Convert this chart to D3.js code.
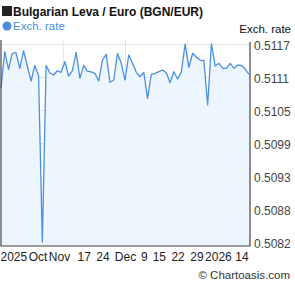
<!DOCTYPE html>
<html>
<head>
<meta charset="utf-8">
<script src="https://cdn.jsdelivr.net/npm/d3@7"></script>
<style>
  body { margin: 0; background: #fff; }
  text { font-family: "Liberation Sans", Arial, sans-serif; }
</style>
</head>
<body>
<div id="chart"></div>
<script>
// BGN/EUR exchange rate, one value per business day (Oct 16 2025 - Jan 16 2026)
const rates = [
  0.510882, 0.511519, 0.511210, 0.511491, 0.511501, 0.511228, 0.511536, 0.511268,
  0.511005, 0.511280, 0.511092, 0.508180, 0.511280, 0.511150, 0.511110, 0.511185,
  0.511157, 0.511343, 0.511092, 0.511185, 0.511508, 0.511052, 0.511280, 0.511180,
  0.511163, 0.511140, 0.511005, 0.511373, 0.511473, 0.510982, 0.511022, 0.511491,
  0.511315, 0.511022, 0.511461, 0.511315, 0.511157, 0.511080, 0.511157, 0.510701,
  0.511122, 0.511140, 0.511168, 0.511198, 0.511150, 0.510975, 0.511168, 0.511040,
  0.511168, 0.511654, 0.511245, 0.511491, 0.511421, 0.511373, 0.511361, 0.510584,
  0.511654, 0.511268, 0.511315, 0.511228, 0.511228, 0.511315, 0.511228, 0.511285,
  0.511280, 0.511210, 0.511122
];

// x tick labels and the data index each one belongs to
const xTickLabels = ["2025", "Oct", "Nov", "17", "24", "Dec", "9", "15", "22", "29", "2026", "14"];
const xTickIdx    = [0, 1, 12, 22, 27, 33, 38, 42, 47, 52, 55, 64];

// y ticks: min to max in six equal steps
const yTicks = [0.50818, 0.508759, 0.509338, 0.509917, 0.510496, 0.511075, 0.511654];

const width = 295, height = 288;
const plot = { left: 1, right: 250, top: 40, bottom: 246 };

const svg = d3.select("#chart")
    .append("svg")
    .attr("width", width)
    .attr("height", height);

let x = d3.scaleLinear()
    .domain([0, rates.length - 1])
    .range([plot.left, plot.right - 1]);

let y = d3.scaleLinear()
    .domain([yTicks[0], yTicks[yTicks.length - 1]])
    .range([242, 44]);

// vertical grid, plot split in quarters
let gx = d3.scaleLinear().domain([0, 4]).range([plot.left, plot.right]);
svg.append("g")
    .selectAll("line")
    .data([1, 2, 3])
    .join("line")
    .attr("x1", d => gx(d)).attr("x2", d => gx(d))
    .attr("y1", plot.top).attr("y2", plot.bottom)
    .attr("stroke", "#e4e4e4");

// horizontal grid
svg.append("g")
    .selectAll("line")
    .data(yTicks)
    .join("line")
    .attr("x1", plot.left).attr("x2", plot.right)
    .attr("y1", d => Math.round(y(d)) + 0.5).attr("y2", d => Math.round(y(d)) + 0.5)
    .attr("stroke", "#e4e4e4");

let area = d3.area()
    .x((d, i) => x(i))
    .y0(plot.bottom)
    .y1(d => y(d));

svg.append("path")
    .datum(rates)
    .attr("d", area)
    .attr("fill", "#edf5fe");

let line = d3.line()
    .x((d, i) => x(i))
    .y(d => y(d));

svg.append("path")
    .datum(rates)
    .attr("d", line)
    .attr("fill", "none")
    .attr("stroke", "#4a90e2")
    .attr("stroke-width", 1.3)
    .attr("stroke-linejoin", "round");

// frame: left, bottom, right
svg.append("path")
    .attr("d", `M${plot.left},${plot.top}V${plot.bottom}H${plot.right}V${plot.top + 2}`)
    .attr("fill", "none")
    .attr("stroke", "#444")
    .attr("stroke-width", 1.2);

// right y axis
svg.append("g")
    .attr("transform", `translate(${plot.right},0)`)
    .call(d3.axisRight(y).tickValues(yTicks).tickFormat(d3.format(".4f")).tickSize(0).tickPadding(4))
    .call(g => g.select(".domain").remove())
    .call(g => g.selectAll("text")
        .attr("font-size", 12)
        .attr("fill", "#444")
        .attr("font-family", "Liberation Sans, Arial, sans-serif")
        .attr("dy", "0.45em"));

// bottom x axis, labels pushed right where they would overlap
let xAxis = svg.append("g")
    .attr("transform", `translate(0,${plot.bottom})`)
    .call(d3.axisBottom(x).tickValues(xTickIdx).tickFormat((d, i) => xTickLabels[i]).tickSize(0).tickPadding(4))
    .call(g => g.select(".domain").remove());

xAxis.selectAll("text")
    .attr("font-size", 12)
    .attr("fill", "#222")
    .attr("font-family", "Liberation Sans, Arial, sans-serif")
    .attr("dy", "0.95em");

let prevRight = -Infinity;
xAxis.selectAll(".tick").each(function(d) {
    let t = d3.select(this).select("text");
    let w = t.node().getComputedTextLength();
    let left = Math.max(x(d) - w / 2, 0, prevRight + 1.5);
    t.attr("x", left + w / 2 - x(d));
    prevRight = left + w;
});

// title and legend
svg.append("rect")
    .attr("x", 2).attr("y", 6)
    .attr("width", 10).attr("height", 10)
    .attr("fill", "#222");

svg.append("text")
    .attr("x", 13).attr("y", 15.5)
    .attr("font-size", 12)
    .attr("font-weight", "bold")
    .attr("fill", "#111")
    .text("Bulgarian Leva / Euro (BGN/EUR)");

svg.append("circle")
    .attr("cx", 7).attr("cy", 26)
    .attr("r", 4.5)
    .attr("fill", "#4a90e2");

svg.append("text")
    .attr("x", 13).attr("y", 30)
    .attr("font-size", 11.5)
    .attr("fill", "#4a90e2")
    .text("Exch. rate");

svg.append("text")
    .attr("x", 291).attr("y", 33)
    .attr("text-anchor", "end")
    .attr("font-size", 11.5)
    .attr("fill", "#111")
    .text("Exch. rate");

svg.append("text")
    .attr("x", 290).attr("y", 279)
    .attr("text-anchor", "end")
    .attr("font-size", 11.5)
    .attr("fill", "#333")
    .text("© Chartoasis.com");
</script>
</body>
</html>
